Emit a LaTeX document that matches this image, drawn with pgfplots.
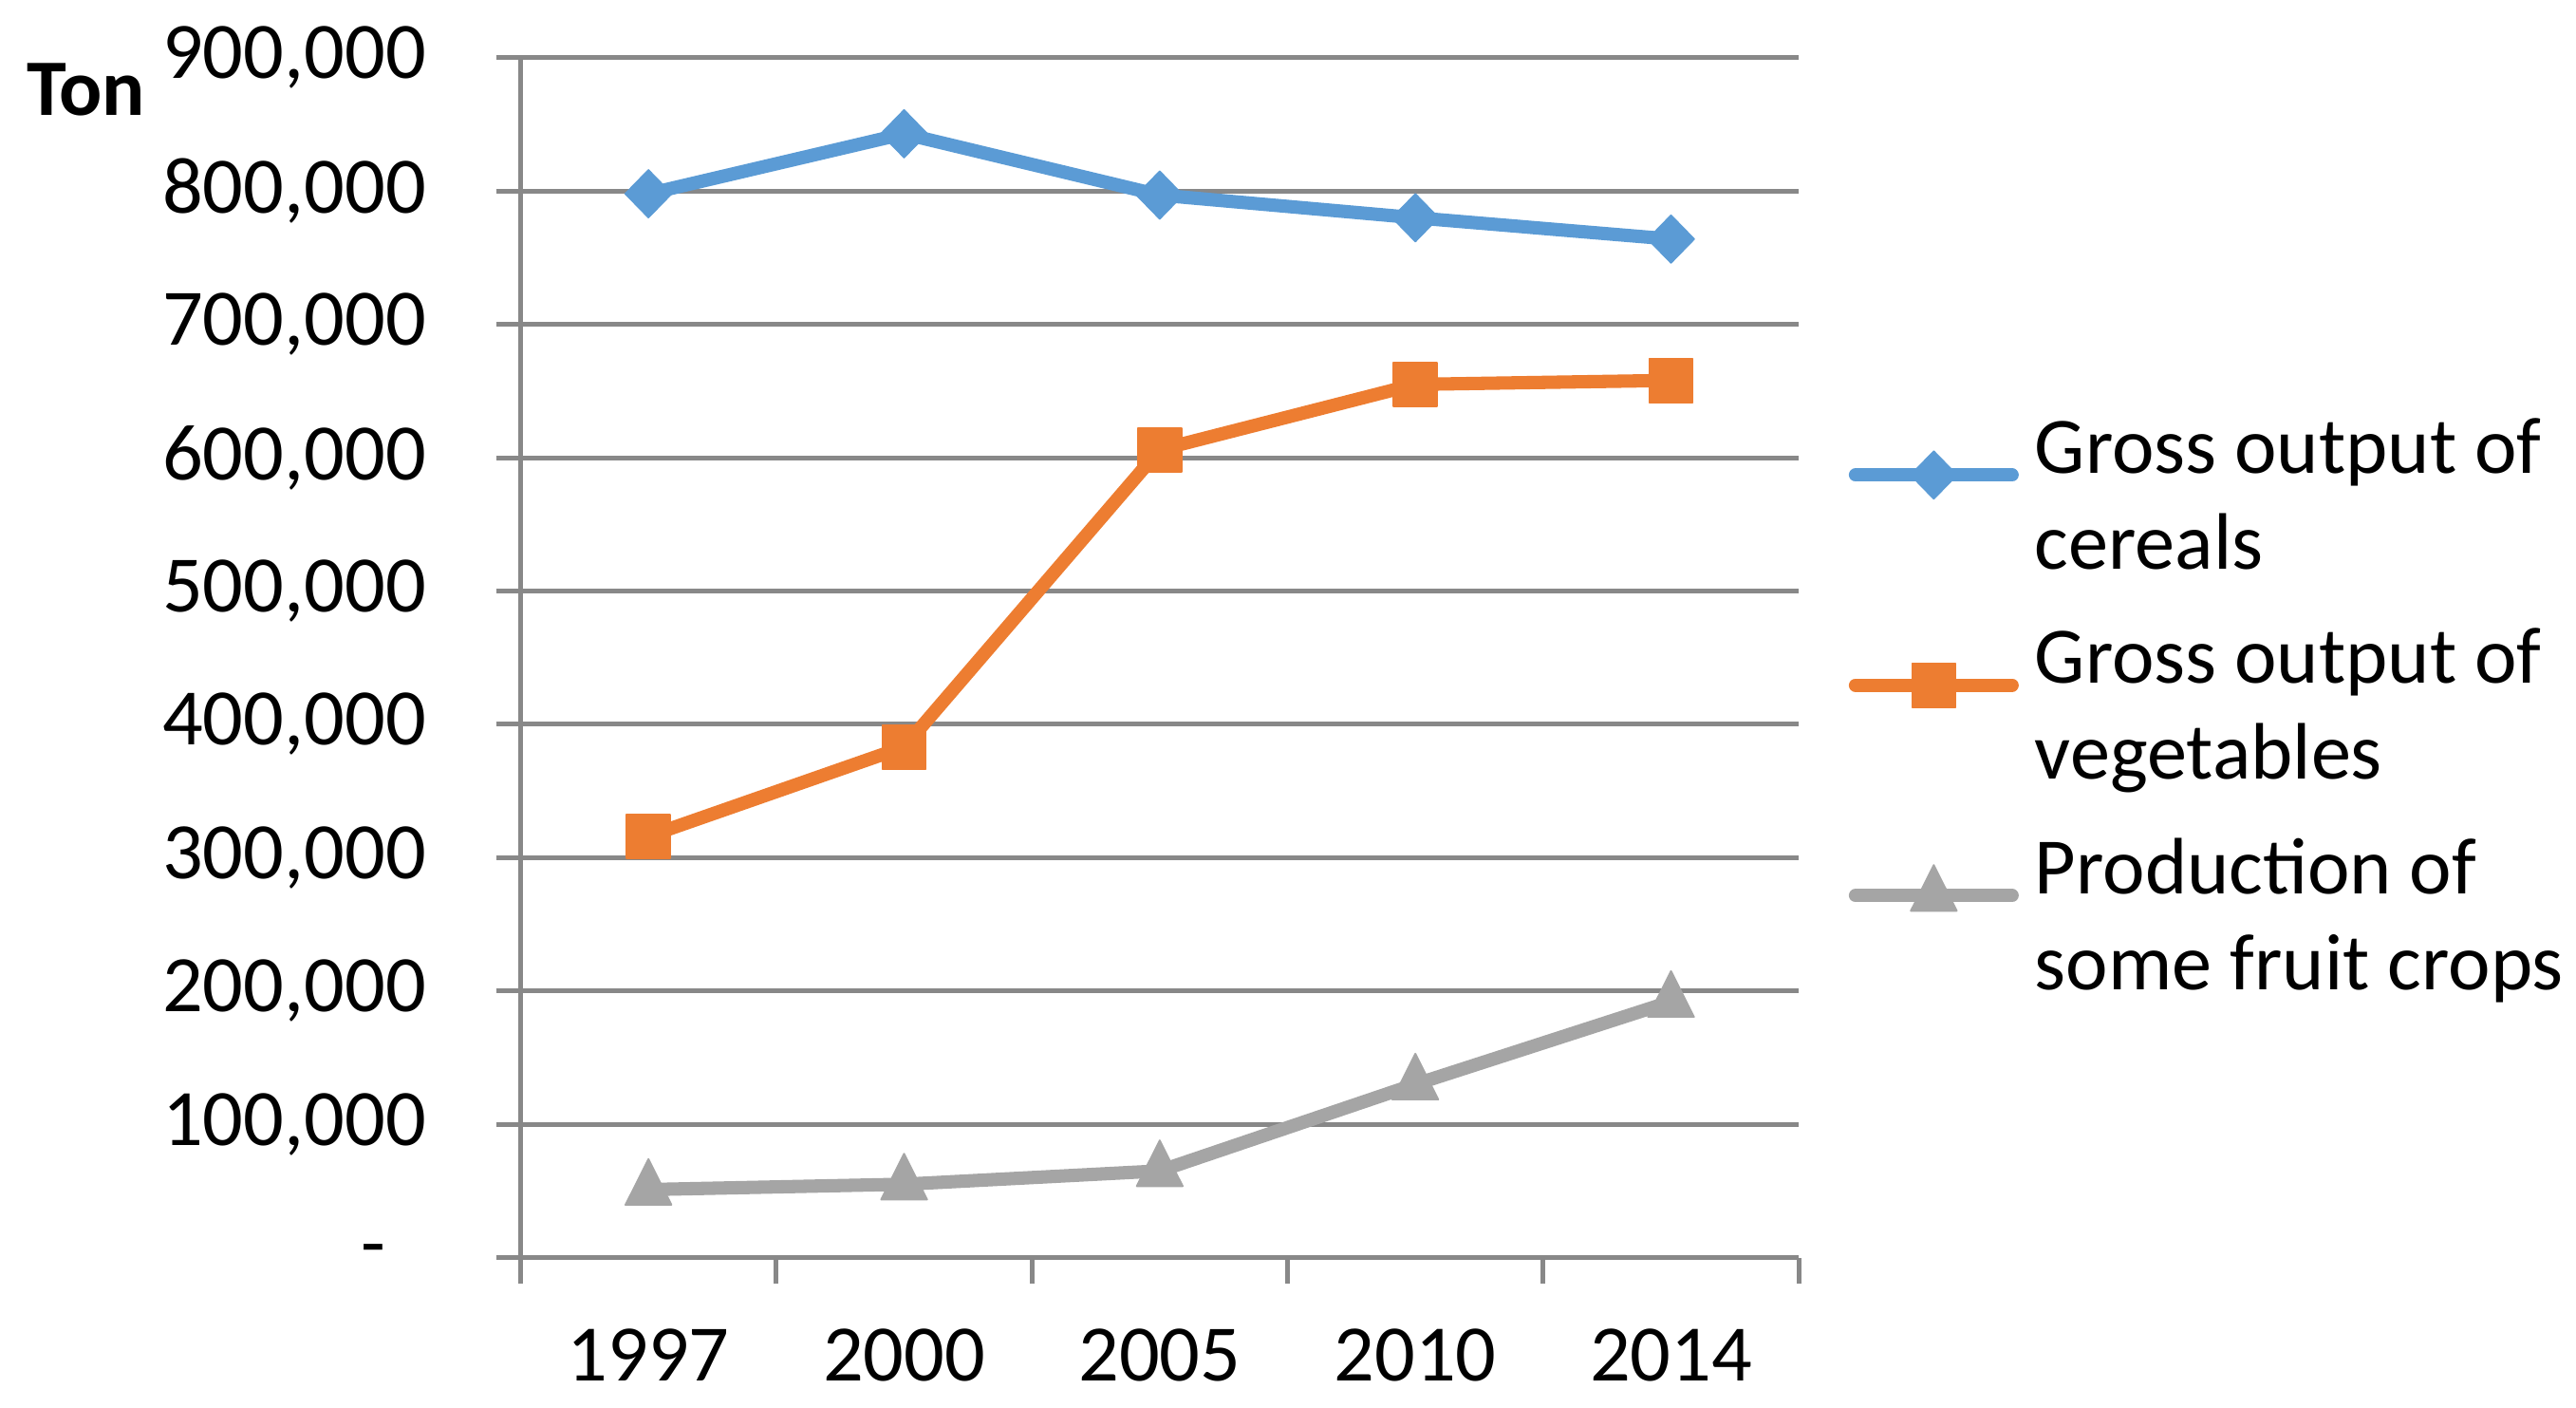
\documentclass[border=0pt]{standalone}
\usepackage{fontspec}
\setmainfont{Carlito}
\usepackage{pgfplots}
\pgfplotsset{compat=1.18}

\definecolor{cereal}{HTML}{5B9BD5}
\definecolor{veg}{HTML}{ED7D31}
\definecolor{fruit}{HTML}{A5A5A5}
\definecolor{gridc}{HTML}{888888}

\begin{document}
\fontsize{24}{28.7}\selectfont
\begin{tikzpicture}
\begin{axis}[
    name=ax,
    scale only axis,
    width=13.47cm, height=12.64cm,
    xmin=-0.5, xmax=4.5,
    ymin=0, ymax=900000,
    axis x line=bottom, axis y line=left,
    axis line style={gridc, line width=1.4pt, -},
    xtick={0,1,2,3,4},
    xticklabels={1997,2000,2005,2010,2014},
    minor xtick={-0.5,0.5,1.5,2.5,3.5,4.5},
    major x tick style={draw=none},
    minor x tick style={gridc, line width=1.4pt},
    ytick={0,100000,200000,300000,400000,500000,600000,700000,800000,900000},
    yticklabels={{-\hphantom{0}},{100,000},{200,000},{300,000},{400,000},{500,000},{600,000},{700,000},{800,000},{900,000}},
    scaled y ticks=false,
    y tick style={gridc, line width=1.4pt},
    tick align=outside,
    major tick length=0.26cm,
    minor tick length=0.27cm,
    ymajorgrids,
    grid style={gridc, line width=1.4pt},
    yticklabel style={anchor=east, xshift=-0.45cm},
    xticklabel style={anchor=north, yshift=-0.2cm},
    ylabel={\bfseries Ton},
    every axis y label/.style={at={(rel axis cs:0,1)}, anchor=center, rotate=0, xshift=-4.58cm, yshift=-0.34cm},
    clip=false,
    every axis plot/.append style={line width=4pt, line join=round},
    legend style={at={(rel axis cs:1,0.70)}, anchor=north west, xshift=0.52cm,
        draw=none, fill=none, inner sep=0pt, row sep=0.5cm, column sep=0.17cm,
        font=\fontsize{24}{28.7}\selectfont,
        nodes={inner sep=0pt, align=left}},
    legend cell align=left,
    legend image code/.code={\draw[#1, mark repeat=2, mark phase=2, line cap=round]
        plot coordinates {(0cm,0.26cm) (0.825cm,0.26cm) (1.65cm,0.26cm)};},
]
\addplot[cereal, mark=diamond*, mark size=0.25cm,
    mark options={solid, line width=0.5pt, fill=cereal, xscale=1.3}] coordinates {
    (0,798000) (1,843000) (2,797000) (3,780000) (4,764000)
};
\addlegendentry{Gross output of\\cereals}
\addplot[veg, mark=square*, mark size=0.23cm,
    mark options={solid, line width=0.5pt, fill=veg}] coordinates {
    (0,316000) (1,383000) (2,606000) (3,655000) (4,658000)
};
\addlegendentry{Gross output of\\vegetables}
\addplot[fruit, mark=triangle*, mark size=0.28cm,
    mark options={solid, line width=0.5pt, fill=fruit, yscale=1.15}] coordinates {
    (0,51000) (1,55000) (2,65000) (3,130000) (4,192000)
};
\addlegendentry{Production of\\some fruit crops}
\end{axis}
\path ([xshift=-5.48cm,yshift=-1.49cm]ax.south west) rectangle ([xshift=8.19cm,yshift=0.57cm]ax.north east);
\end{tikzpicture}
\end{document}
